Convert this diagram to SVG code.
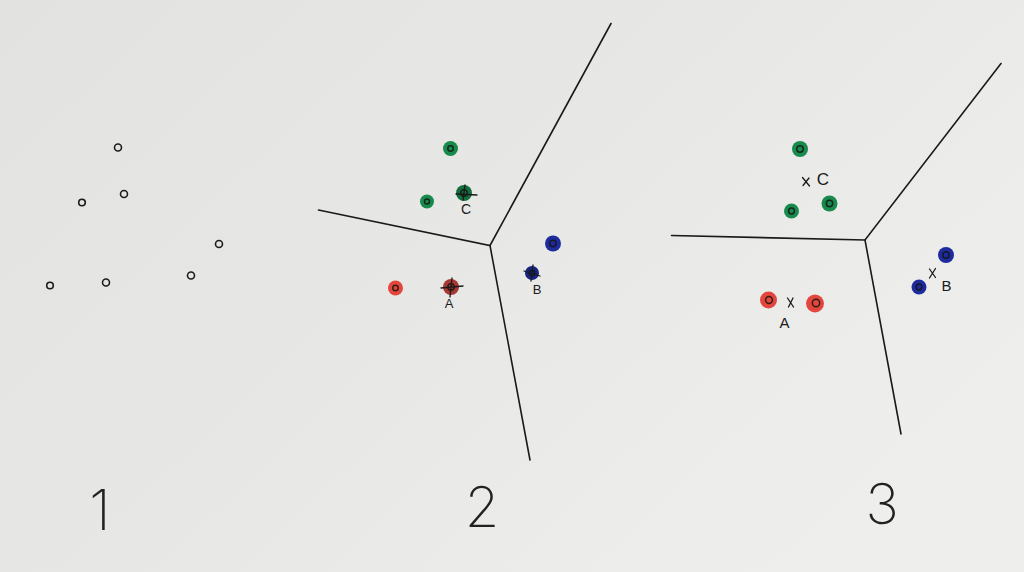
<svg xmlns="http://www.w3.org/2000/svg" width="1024" height="572" viewBox="0 0 1024 572">
<defs>
<linearGradient id="paper" x1="0" y1="0" x2="1" y2="0.6">
<stop offset="0" stop-color="#e2e2e0"/>
<stop offset="0.5" stop-color="#e7e7e5"/>
<stop offset="1" stop-color="#eeeeec"/>
</linearGradient>
<style>
.pt1{fill:none;stroke:#1c1c1c;stroke-width:1.6}
.g{fill:#188a4c}.r{fill:#e2463c}.b{fill:#1d2b9c}
.gd{fill:#136e3c}.rd{fill:#a83834}.bd{fill:#17247f}
.ring{fill:none;stroke:#151515;stroke-opacity:0.85;stroke-width:1.5}
.line{fill:none;stroke:#1a1a1a;stroke-width:1.6;stroke-linecap:round}
.mark{fill:none;stroke:#1a1a1a;stroke-width:1.3;stroke-linecap:round}
.lbl{font-family:"Liberation Sans",Arial,sans-serif;fill:#1a1a1a}
.num{font-family:Inter,"Open Sans","Liberation Sans",sans-serif;font-weight:200;fill:#222;font-size:56px;text-anchor:middle}
</style>
</defs>
<rect width="1024" height="572" fill="url(#paper)"/>

<g id="panel1">
<circle class="pt1" cx="118" cy="147.5" r="3.5"/>
<circle class="pt1" cx="124" cy="194" r="3.5"/>
<circle class="pt1" cx="82" cy="202.5" r="3.3"/>
<circle class="pt1" cx="219" cy="244" r="3.5"/>
<circle class="pt1" cx="191" cy="275.5" r="3.5"/>
<circle class="pt1" cx="106" cy="282.5" r="3.5"/>
<circle class="pt1" cx="50" cy="285.5" r="3.3"/>
</g>

<g id="boundaries">
<polyline class="line" points="318.5,210 490,245.5 611,23.5"/>
<line class="line" x1="490" y1="245.5" x2="530" y2="460"/>
<polyline class="line" points="671.5,235.5 865,240 1001,63.5"/>
<line class="line" x1="865" y1="240" x2="901" y2="434"/>
</g>

<g id="panel2">
<g id="p2-green"><circle class="g" cx="450.5" cy="148.5" r="7.5"/><circle class="ring" cx="450.5" cy="148.5" r="2.7"/>
<circle class="g" cx="427" cy="201.5" r="7"/><circle class="ring" cx="427" cy="201.5" r="2.5"/>
<circle class="gd" cx="464" cy="193" r="8"/><circle class="ring" cx="464" cy="193" r="3.2"/>
<path class="mark" d="M465,185 L463,200 M456,194 L477,195"/>
<text class="lbl" x="466" y="214" font-size="14" text-anchor="middle">C</text></g>
<g id="p2-red"><circle class="r" cx="395.5" cy="288" r="7.5"/><circle class="ring" cx="395.5" cy="288" r="2.7"/>
<circle class="rd" cx="451" cy="287" r="8"/><circle class="ring" cx="451" cy="287" r="3.2"/>
<path class="mark" d="M452,278 L450,297 M441,288 L463,286"/>
<text class="lbl" x="449" y="308" font-size="13" text-anchor="middle">A</text></g>
<g id="p2-blue"><circle class="b" cx="553" cy="243.5" r="8"/><circle class="ring" cx="553" cy="243.5" r="3.2"/>
<circle class="bd" cx="532" cy="273" r="7"/><circle class="ring" cx="532" cy="273" r="2.7"/>
<path class="mark" d="M533,265 L531,281 M524,271 L540,276"/>
<text class="lbl" x="537" y="294" font-size="13" text-anchor="middle">B</text></g>
</g>

<g id="panel3">
<g id="p3-green"><circle class="g" cx="800" cy="149" r="8"/><circle class="ring" cx="800" cy="149" r="3.2"/>
<circle class="g" cx="791.5" cy="211" r="7.5"/><circle class="ring" cx="791.5" cy="211" r="2.9"/>
<circle class="g" cx="829.5" cy="203.5" r="8"/><circle class="ring" cx="829.5" cy="203.5" r="3.2"/>
<path class="mark" d="M802.5,177.5 L809.5,186 M809,178 L803,185.5"/>
<text class="lbl" x="823" y="185" font-size="17" text-anchor="middle">C</text></g>
<g id="p3-red"><circle class="r" cx="768.5" cy="300" r="8.5"/><circle class="ring" cx="769" cy="300" r="3.4"/>
<circle class="r" cx="815" cy="303.5" r="9"/><circle class="ring" cx="816" cy="303" r="3.7"/>
<path class="mark" d="M787.5,298 L793.5,307 M793,298 L788.5,307"/>
<text class="lbl" x="784.5" y="327.5" font-size="15" text-anchor="middle">A</text></g>
<g id="p3-blue"><circle class="b" cx="946" cy="255" r="8"/><circle class="ring" cx="946" cy="255" r="3.2"/>
<circle class="b" cx="919" cy="287" r="7.5"/><circle class="ring" cx="919" cy="287" r="2.9"/>
<path class="mark" d="M929.5,269 L935.5,277.5 M935.5,268.5 L929.5,278"/>
<text class="lbl" x="946.5" y="290.5" font-size="15" text-anchor="middle">B</text></g>
</g>

<g id="labels">
<text class="num" x="100" y="530">1</text>
<text class="num" x="482" y="527">2</text>
<text class="num" x="882" y="524">3</text>
</g>
</svg>
